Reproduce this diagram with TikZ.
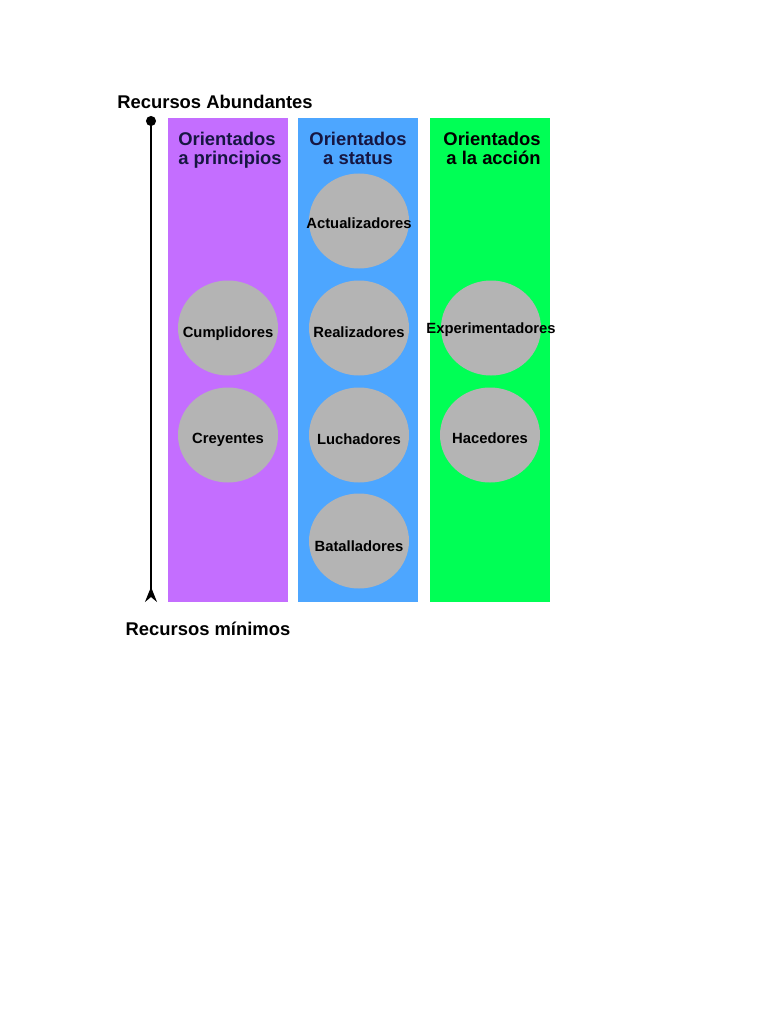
\documentclass[tikz,border=0pt]{standalone}
\usepackage{fontspec}
\setmainfont{Liberation Sans}
\usetikzlibrary{arrows.meta,shapes.geometric}
\definecolor{lila}{RGB}{196,110,255}
\definecolor{azul}{RGB}{77,166,255}
\definecolor{verde}{RGB}{0,255,85}
\definecolor{gris}{RGB}{180,180,180}
\definecolor{tinta}{RGB}{22,22,66}

\begin{document}
\begin{tikzpicture}[x=1pt, y=-1pt,
    columna/.style={fill=#1, draw=none},
    titulo/.style={font=\bfseries\fontsize{18.4}{19}\selectfont, align=center, inner sep=0pt},
    blob/.style={ellipse, fill=gris, minimum width=100pt, minimum height=95pt, inner sep=0pt},
    rotulo/.style={font=\bfseries\fontsize{14.8}{16}\selectfont, inner sep=0pt}]
\useasboundingbox[fill=white] (0,0) rectangle (768,1024);
% columnas
\begin{scope}
    \fill[columna=lila]  (168,118) rectangle (288,602);
    \fill[columna=azul]  (298,118) rectangle (418,602);
    \fill[columna=verde] (430,118) rectangle (550,602);
    \node[titulo, align=left, text=tinta] (princ) at (230,150) {Orientados\\a principios};
    \node[titulo, text=tinta] (status) at (358,148) {Orientados\\a status};
    \node[titulo, align=right] (accion) at (492,148) {Orientados\\a la acción};
\end{scope}
% grupos
\foreach \nombre/\x/\y/\dy/\texto in {act/359/221/2/Actualizadores, rea/359/328/4/Realizadores,
        luc/359/435/4/Luchadores, bat/359/541/5/Batalladores, cum/228/328/6/Cumplidores,
        cre/228/435/5/Creyentes, exp/491/328/2/Experimentadores, hac/490/435/3/Hacedores} {
    \node[blob] (\nombre) at (\x,\y) {};
    \node[rotulo] (\nombre-txt) at ([yshift=-\dy pt]\nombre.center) {\texto};
}
% eje de recursos
\coordinate (arriba) at (151,116);
\coordinate (abajo) at (151,602);
\draw[line width=1.3pt, {Circle[length=10pt]}-{Stealth[reversed, length=15pt, width=12pt, inset=5pt]}] (arriba) -- (abajo);
\node[titulo] (abund) at (215,102) {Recursos Abundantes};
\node[titulo] (minim) at (208,629) {Recursos mínimos};
\end{tikzpicture}
\end{document}
